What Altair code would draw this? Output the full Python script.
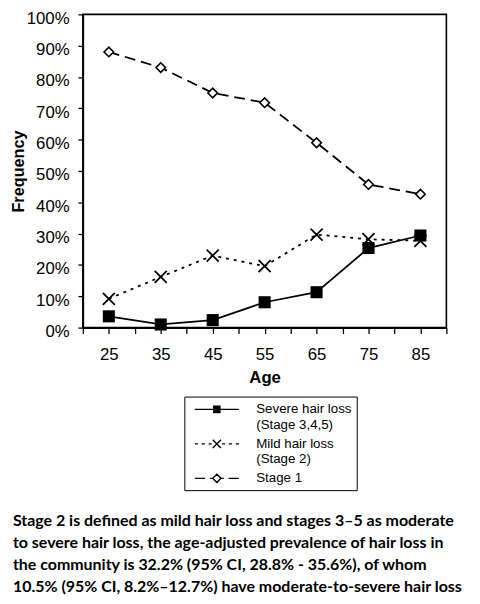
import altair as alt
import pandas as pd

ages = [25, 35, 45, 55, 65, 75, 85]
severe = [3.6, 1.0, 2.4, 8.1, 11.3, 25.4, 29.4]
mild = [9.2, 16.2, 23.0, 19.6, 29.7, 28.2, 27.7]
stage1 = [88.0, 83.0, 74.9, 71.8, 59.0, 45.7, 42.6]

series_names = ["Severe hair loss|(Stage 3,4,5)", "Mild hair loss|(Stage 2)", "Stage 1"]
x_ticks = [20, 25, 30, 35, 40, 45, 50, 55, 60, 65, 70, 75, 80, 85, 90]
y_ticks = [0, 10, 20, 30, 40, 50, 60, 70, 80, 90, 100]
caption = [
    "Stage 2 is defined as mild hair loss and stages 3\u20135 as moderate",
    "to severe hair loss, the age-adjusted  prevalence of hair loss in",
    "the community  is 32.2% (95% CI, 28.8% - 35.6%), of whom",
    "10.5% (95% CI, 8.2%\u201312.7%) have moderate-to-severe  hair loss",
]

rows = []
for name, vals in zip(series_names, [severe, mild, stage1]):
    for a, v in zip(ages, vals):
        rows.append({"age": a, "freq": v, "series": name})
df = pd.DataFrame(rows)

FONT = "Liberation Sans"

x_enc = alt.X("age:Q", scale=alt.Scale(domain=[20, 90], nice=False, zero=False),
              axis=alt.Axis(values=x_ticks, labelExpr="datum.value % 10 == 5 ? datum.label : ''",
                            tickSize=6, labelPadding=13, labelFontSize=17, labelFont=FONT,
                            labelAngle=0, labelColor="black", title="Age", titleFontSize=17,
                            titleFont=FONT, titleFontWeight="bold", titlePadding=8,
                            titleColor="black", grid=False))
y_enc = alt.Y("freq:Q", scale=alt.Scale(domain=[0, 100], nice=False),
              axis=alt.Axis(values=y_ticks, labelExpr="datum.value + '%'", tickSize=5,
                            labelPadding=9, labelFontSize=17, labelFont=FONT, labelOffset=4,
                            labelColor="black", title="Frequency", titleFontSize=16.5,
                            titleFont=FONT, titleFontWeight="bold", titlePadding=0,
                            titleColor="black", grid=False))

base = alt.Chart(df)


def only(i):
    return base.transform_filter(alt.datum.series == series_names[i])


line_severe = only(0).mark_line(color="black", strokeWidth=1.8).encode(x=x_enc, y=y_enc)
line_mild = only(1).mark_line(color="black", strokeWidth=1.8, strokeDash=[3, 5]).encode(
    x=x_enc, y=y_enc)
line_stage1 = only(2).mark_line(color="black", strokeWidth=1.8, strokeDash=[11, 6]).encode(
    x=x_enc, y=y_enc)

pts_severe = only(0).mark_point(
    shape="square", filled=True, color="black", size=150, opacity=1).encode(x=x_enc, y=y_enc)
pts_mild = only(1).mark_point(
    shape="M-1,-1L1,1M-1,1L1,-1", filled=False, stroke="black", strokeWidth=1.8,
    size=150, opacity=1).encode(x=x_enc, y=y_enc)
pts_stage1 = only(2).mark_point(
    shape="diamond", filled=True, fill="white", stroke="black", strokeWidth=1.6,
    size=95, opacity=1).encode(x=x_enc, y=y_enc)

# legend symbols: line style + marker drawn as one path per entry
legend_shapes = [
    "M-3.2,0H-0.45M0.45,0H3.2M-0.45,-0.45H0.45V0.45H-0.45Z"
    "M-0.45,-0.25H0.45M-0.45,-0.05H0.45M-0.45,0.15H0.45M-0.45,0.35H0.45",
    "M-3.2,0H-2.75M-2.2,0H-1.75M-1.2,0H-0.75M0.75,0H1.2M1.75,0H2.2M2.75,0H3.2"
    "M-0.6,-0.6L0.6,0.6M-0.6,0.6L0.6,-0.6",
    "M-3.2,0H-1.7M-1.0,0H-0.6M0.6,0H1.0M1.7,0H3.2M-0.6,0L0,-0.6L0.6,0L0,0.6Z",
]

legend_layer = base.mark_point(
    stroke="black", strokeWidth=1.4, filled=False, opacity=0).encode(
    x=x_enc, y=y_enc,
    shape=alt.Shape("series:N", scale=alt.Scale(domain=series_names, range=legend_shapes),
                    legend=alt.Legend(
                        title=None, orient="none", legendX=103, legendY=388,
                        labelExpr="split(datum.label, '|')", labelFont=FONT,
                        labelFontSize=13.5, labelColor="black", labelLimit=300,
                        labelBaseline="middle",
                        symbolSize=196, symbolStrokeWidth=1.4, symbolOpacity=1,
                        symbolStrokeColor="black", symbolFillColor="transparent",
                        symbolOffset=20, labelOffset=32, strokeColor="black",
                        padding=5, rowPadding=5)),
)

chart = alt.layer(line_severe, line_mild, line_stage1, pts_severe, pts_mild, pts_stage1,
                  legend_layer).properties(
    width=369, height=318,
    title=alt.TitleParams(text=caption, orient="bottom", anchor="start", frame="group",
                          font="Lato", fontSize=16.2, fontWeight="bold", color="black",
                          lineHeight=22.2, dx=-71, offset=23),
    autosize=alt.AutoSizeParams(type="none"),
    padding={"left": 76, "top": 2, "right": 26, "bottom": 268},
).configure_view(stroke="black", strokeWidth=1.6).configure_axis(
    domainColor="black", domainWidth=1.6, tickColor="black", tickWidth=1.3
)

chart.save("out.html", embed_options={"renderer": "svg", "actions": False})
